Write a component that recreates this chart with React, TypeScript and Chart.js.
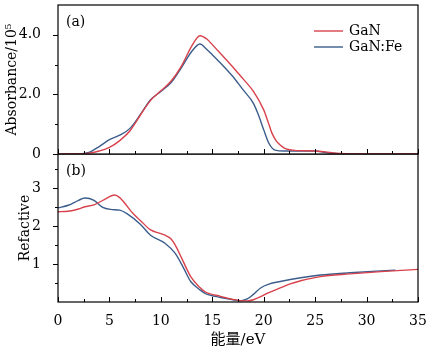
import React, { useEffect, useRef } from "react";
import { Chart, registerables } from "chart.js";

Chart.register(...registerables);

// ---- Data ----
const absGaNX = [0, 1, 2, 3, 4, 5, 6, 7, 8, 9, 10, 11, 12, 13, 13.8, 14.5, 15, 16, 17, 17.5, 18, 19, 20, 20.4, 20.8, 21.2, 21.6, 22, 22.4, 23, 25, 26, 27, 28, 30, 35];
const absGaNY = [0, 0, 0, 0.03, 0.1, 0.22, 0.45, 0.78, 1.3, 1.8, 2.12, 2.45, 2.95, 3.62, 3.97, 3.85, 3.67, 3.3, 2.92, 2.72, 2.52, 2.1, 1.48, 1.1, 0.7, 0.45, 0.3, 0.2, 0.15, 0.12, 0.1, 0.07, 0.03, 0.01, 0, 0];

const absFeX = [0, 1, 2, 3, 4, 5, 6, 7, 8, 9, 10, 11, 12, 13, 13.8, 14.5, 15, 16, 17, 17.5, 18, 19, 19.5, 20, 20.5, 21.1, 22, 25, 26, 27, 28, 35];
const absFeY = [0, 0, 0, 0.05, 0.25, 0.48, 0.63, 0.86, 1.32, 1.82, 2.1, 2.4, 2.9, 3.44, 3.69, 3.5, 3.33, 2.98, 2.6, 2.38, 2.15, 1.7, 1.3, 0.81, 0.36, 0.13, 0.1, 0.1, 0.05, 0.02, 0, 0];

const refGaNX = [0, 1, 2, 2.6, 3.5, 4.5, 5.5, 6, 7.3, 8, 9, 10, 10.4, 11, 11.4, 12, 12.9, 13.8, 14.3, 15.8, 17, 18.4, 19, 19.7, 20.5, 21.6, 22.5, 23.6, 25.5, 28.4, 31.4, 35];
const refGaNY = [2.38, 2.39, 2.45, 2.51, 2.56, 2.7, 2.82, 2.75, 2.33, 2.15, 1.9, 1.8, 1.76, 1.66, 1.5, 1.17, 0.67, 0.38, 0.27, 0.15, 0.07, 0.03, 0.06, 0.14, 0.25, 0.37, 0.47, 0.56, 0.67, 0.74, 0.8, 0.86];

const refFeX = [0, 1, 2, 2.6, 3.5, 4.3, 5.1, 6, 6.7, 8, 9, 10.4, 11.4, 12.2, 12.9, 13.8, 14.3, 15.8, 17, 17.7, 18.4, 19, 19.7, 20.5, 21.6, 23.6, 25.5, 28.4, 31.4, 32.8];
const refFeY = [2.48, 2.55, 2.68, 2.74, 2.68, 2.5, 2.44, 2.42, 2.33, 2.05, 1.76, 1.55, 1.28, 0.9, 0.54, 0.32, 0.23, 0.12, 0.06, 0.03, 0.08, 0.2, 0.37, 0.47, 0.54, 0.64, 0.71, 0.77, 0.82, 0.84];

const seriesNames = ["GaN", "GaN:Fe"];
const xTickLabels = ["0", "5", "10", "15", "20", "25", "30", "35"];
const absTickLabels: Record<number, string> = { 0: "0", 2: "2.0", 4: "4.0" };
const refTickLabels: Record<number, string> = { 1: "1", 2: "2", 3: "3" };

const RED = "#d8424c";
const BLUE = "#3b5d8c";
const FONT = "'DejaVu Serif', 'Noto Sans CJK SC', serif";

const toPts = (xs: number[], ys: number[]) => xs.map((x, i) => ({ x, y: ys[i] }));

function framePlugin(opts: {
  yMajor: number[];
  yMinor: number[];
  panelLabel: string;
  legend: boolean;
}) {
  return {
    id: "frame",
    afterDraw(chart: any) {
      const { ctx, chartArea: a, scales } = chart;
      const xs = scales.x;
      const ys = scales.y;
      ctx.save();
      ctx.strokeStyle = "#000";
      ctx.lineWidth = 1.2;
      ctx.strokeRect(a.left, a.top, a.right - a.left, a.bottom - a.top);
      ctx.lineWidth = 1;
      ctx.beginPath();
      for (let v = 0; v <= 35; v += 2.5) {
        const px = Math.round(xs.getPixelForValue(v)) + 0.5;
        const len = v % 5 === 0 ? 5 : 3;
        ctx.moveTo(px, a.bottom);
        ctx.lineTo(px, a.bottom - len);
      }
      opts.yMajor.forEach((v) => {
        const py = Math.round(ys.getPixelForValue(v)) + 0.5;
        ctx.moveTo(a.left, py);
        ctx.lineTo(a.left - 5, py);
      });
      opts.yMinor.forEach((v) => {
        const py = Math.round(ys.getPixelForValue(v)) + 0.5;
        ctx.moveTo(a.left, py);
        ctx.lineTo(a.left - 3, py);
      });
      ctx.stroke();
      ctx.fillStyle = "#000";
      ctx.font = `14px ${FONT}`;
      ctx.textBaseline = "middle";
      ctx.textAlign = "left";
      ctx.fillText(opts.panelLabel, a.left + 8, a.top + 17);
      if (opts.legend) {
        const ds = chart.data.datasets;
        ds.forEach((d: any, i: number) => {
          const y = a.top + 26 + i * 16;
          ctx.strokeStyle = d.borderColor;
          ctx.lineWidth = 1.4;
          ctx.beginPath();
          ctx.moveTo(a.right - 104, y);
          ctx.lineTo(a.right - 75, y);
          ctx.stroke();
          ctx.fillStyle = "#000";
          ctx.fillText(d.label, a.right - 69, y);
        });
      }
      ctx.restore();
    },
  };
}

function useChart(ref: React.RefObject<HTMLCanvasElement>, build: () => any) {
  useEffect(() => {
    if (!ref.current) return;
    const chart = new Chart(ref.current, build());
    return () => chart.destroy();
  }, []);
}

const fixY = (s: any) => {
  s.width = 58;
  s.paddingTop = 0;
  s.paddingBottom = 0;
};

export default function App() {
  const topRef = useRef<HTMLCanvasElement>(null);
  const botRef = useRef<HTMLCanvasElement>(null);

  const lineDs = (label: string, data: any, color: string) => ({
    label,
    data,
    borderColor: color,
    backgroundColor: color,
    borderWidth: 1.4,
    pointRadius: 0,
    cubicInterpolationMode: "monotone" as const,
    fill: false,
  });

  useChart(topRef, () => ({
    type: "line",
    data: {
      datasets: [
        lineDs(seriesNames[0], toPts(absGaNX, absGaNY), RED),
        lineDs(seriesNames[1], toPts(absFeX, absFeY), BLUE),
      ],
    },
    options: {
      animation: false,
      responsive: false,
      layout: { padding: { top: 5, right: 16, left: 0, bottom: 6 } },
      plugins: { legend: { display: false }, tooltip: { enabled: false } },
      scales: {
        x: { type: "linear", min: 0, max: 35, display: false },
        y: {
          min: 0,
          max: 5,
          afterFit: fixY,
          grid: { display: false },
          border: { display: false },
          ticks: {
            stepSize: 1,
            padding: 9,
            color: "#000",
            font: { family: FONT, size: 14 },
            callback: (v: number) => absTickLabels[v] ?? "",
          },
          title: {
            display: true,
            text: "Absorbance/10⁵",
            color: "#000",
            font: { family: FONT, size: 14 },
            padding: { top: 4, bottom: 0 },
          },
        },
      },
    },
    plugins: [framePlugin({ yMajor: [0, 2, 4], yMinor: [1, 3], panelLabel: "(a)", legend: true })],
  }));

  useChart(botRef, () => ({
    type: "line",
    data: {
      datasets: [
        lineDs(seriesNames[0], toPts(refGaNX, refGaNY), RED),
        lineDs(seriesNames[1], toPts(refFeX, refFeY), BLUE),
      ],
    },
    options: {
      animation: false,
      responsive: false,
      layout: { padding: { top: 0, right: 16, left: 0, bottom: 0 } },
      plugins: { legend: { display: false }, tooltip: { enabled: false } },
      scales: {
        x: {
          type: "linear",
          min: 0,
          max: 35,
          afterFit: (s: any) => {
            s.height = 54;
            s.paddingLeft = 0;
            s.paddingRight = 0;
          },
          grid: { display: false },
          border: { display: false },
          ticks: {
            stepSize: 5,
            padding: 3,
            color: "#000",
            font: { family: FONT, size: 14 },
            maxRotation: 0,
            callback: (v: number) => (v % 5 === 0 ? xTickLabels[v / 5] : ""),
          },
          title: {
            display: true,
            text: "能量/eV",
            color: "#000",
            font: { family: FONT, size: 15 },
            padding: { top: 0, bottom: 7 },
          },
        },
        y: {
          min: 0,
          max: 3.9,
          afterFit: fixY,
          grid: { display: false },
          border: { display: false },
          ticks: {
            stepSize: 1,
            padding: 9,
            color: "#000",
            font: { family: FONT, size: 14 },
            callback: (v: number) => refTickLabels[v] ?? "",
          },
          title: {
            display: true,
            text: "Refactive",
            color: "#000",
            font: { family: FONT, size: 14 },
            padding: { top: 17, bottom: 0 },
          },
        },
      },
    },
    plugins: [framePlugin({ yMajor: [1, 2, 3], yMinor: [0.5, 1.5, 2.5, 3.5], panelLabel: "(b)", legend: false })],
  }));

  return (
    <div style={{ position: "absolute", left: 0, top: 0, width: 434, height: 356, background: "#fff" }}>
      <canvas ref={topRef} width={434} height={160} style={{ position: "absolute", left: 0, top: 0 }} />
      <canvas ref={botRef} width={434} height={202} style={{ position: "absolute", left: 0, top: 154 }} />
    </div>
  );
}
